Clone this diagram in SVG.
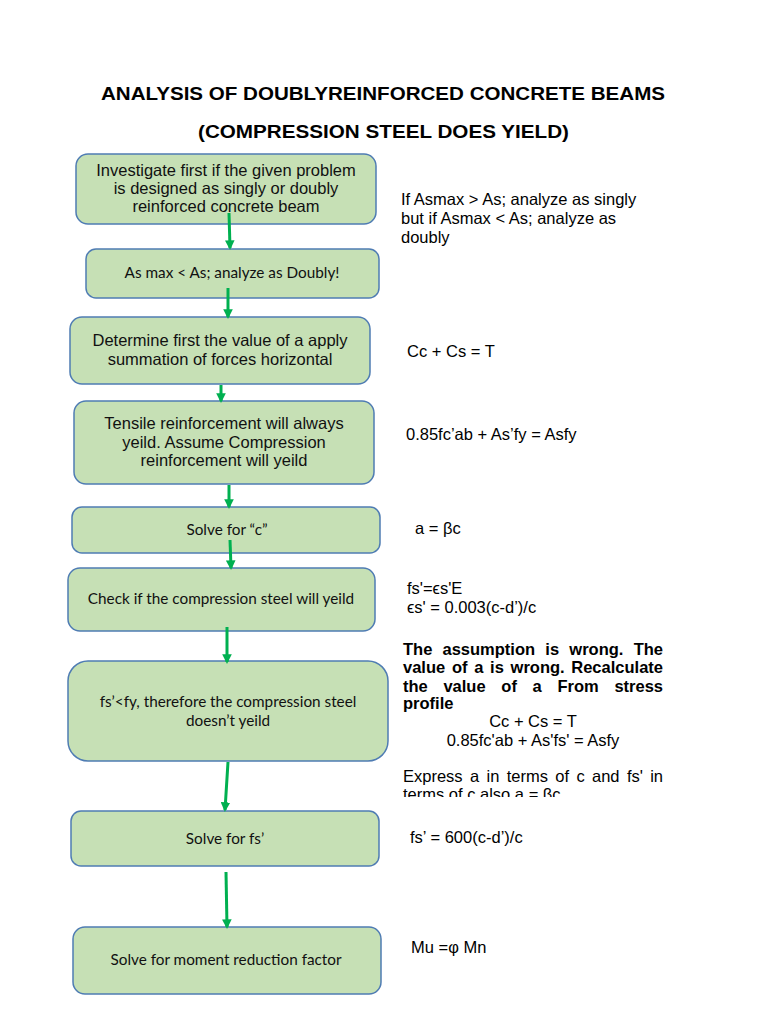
<svg xmlns="http://www.w3.org/2000/svg" width="768" height="1024" viewBox="0 0 768 1024">
<style>
.box{fill:#c6e0b5;stroke:#4f7cb3;stroke-width:1.5}
.a{font-family:"Liberation Sans",Arial,sans-serif;font-size:16.5px;fill:#111}
.c{font-family:Lato,"Open Sans",sans-serif;font-size:15.3px;fill:#111}
.m{text-anchor:middle}
.t{font-family:"Liberation Sans",Arial,sans-serif;font-size:18px;font-weight:bold;fill:#000;text-anchor:middle}
.b{font-family:"Liberation Sans",Arial,sans-serif;font-size:16.5px;font-weight:bold;fill:#000}
.r{font-family:"Liberation Sans",Arial,sans-serif;font-size:16.5px;fill:#000}
.arr{stroke:#00b050;stroke-width:3;fill:none;marker-end:url(#ah)}
</style>
<defs>
<marker id="ah" viewBox="0 0 10 10" refX="8" refY="5" markerWidth="3.2" markerHeight="3.2" orient="auto" markerUnits="strokeWidth">
<path d="M0,0 L10,5 L0,10 z" fill="#00b050"/>
</marker>
<clipPath id="clip"><rect x="390" y="760" width="300" height="37"/></clipPath>
</defs>
<rect width="768" height="1024" fill="#fff"/>
<g id="title">
<text class="t" x="383" y="100" textLength="564" lengthAdjust="spacingAndGlyphs">ANALYSIS OF DOUBLYREINFORCED CONCRETE BEAMS</text>
<text class="t" x="383.5" y="138" textLength="371" lengthAdjust="spacingAndGlyphs">(COMPRESSION STEEL DOES YIELD)</text>
</g>
<g id="n1"><rect class="box" x="76" y="154" width="300" height="70" rx="12"/>
<text class="a m" x="226" y="176">Investigate first if the given problem</text>
<text class="a m" x="226" y="194">is designed as singly or doubly</text>
<text class="a m" x="226" y="212">reinforced concrete beam</text></g>
<g id="n2"><rect class="box" x="86" y="249" width="293" height="49" rx="10"/>
<text class="c m" x="232" y="278">As max &lt; As; analyze as Doubly!</text></g>
<g id="n3"><rect class="box" x="70" y="317" width="300" height="67" rx="12"/>
<text class="a m" x="220" y="346">Determine first the value of a apply</text>
<text class="a m" x="220" y="365">summation of forces horizontal</text></g>
<g id="n4"><rect class="box" x="74" y="401" width="300" height="83" rx="12"/>
<text class="a m" x="224" y="429">Tensile reinforcement will always</text>
<text class="a m" x="224" y="448">yeild. Assume Compression</text>
<text class="a m" x="224" y="466">reinforcement will yeild</text></g>
<g id="n5"><rect class="box" x="72" y="507" width="308" height="46" rx="10"/>
<text class="c m" x="227" y="535">Solve for “c”</text></g>
<g id="n6"><rect class="box" x="68" y="568" width="307" height="63" rx="12"/>
<text class="c m" x="221" y="604">Check if the compression steel will yeild</text></g>
<g id="n7"><rect class="box" x="68" y="661" width="320" height="100" rx="20"/>
<text class="c m" x="228" y="707">fs’&lt;fy, therefore the compression steel</text>
<text class="c m" x="228" y="726">doesn’t yeild</text></g>
<g id="n8"><rect class="box" x="71" y="811" width="308" height="55" rx="10"/>
<text class="c m" x="225" y="844">Solve for fs’</text></g>
<g id="n9"><rect class="box" x="73" y="927" width="308" height="67" rx="12"/>
<text class="c m" x="226" y="965">Solve for moment reduction factor</text></g>
<g id="connectors">
<line class="arr" x1="229" y1="213" x2="230" y2="248"/>
<line class="arr" x1="228" y1="288" x2="228" y2="317"/>
<line class="arr" x1="221" y1="385" x2="221" y2="401"/>
<line class="arr" x1="229" y1="485" x2="229" y2="507"/>
<line class="arr" x1="230" y1="540" x2="231" y2="568"/>
<line class="arr" x1="227" y1="627" x2="227" y2="662"/>
<line class="arr" x1="228" y1="762" x2="225" y2="810"/>
<line class="arr" x1="226" y1="872" x2="227" y2="927"/>
</g>
<g id="notes">
<text class="r" x="401" y="205">If Asmax &gt; As; analyze as singly</text>
<text class="r" x="401" y="224">but if Asmax &lt; As; analyze as</text>
<text class="r" x="401" y="243">doubly</text>
<text class="r" x="407" y="357">Cc + Cs = T</text>
<text class="r" x="406" y="440">0.85fc’ab + As’fy = Asfy</text>
<text class="r" x="415" y="534">a = βc</text>
<text class="r" x="407" y="594">fs'=ϵs'E</text>
<text class="r" x="407" y="613">ϵs' = 0.003(c-d’)/c</text>
<text class="b" y="655"><tspan x="403">The</tspan><tspan x="442.5">assumption</tspan><tspan x="545.3">is</tspan><tspan x="569.3">wrong.</tspan><tspan x="663" text-anchor="end">The</tspan></text>
<text class="b" y="673"><tspan x="403">value</tspan><tspan x="451.9">of</tspan><tspan x="474.2">a</tspan><tspan x="490.1">is</tspan><tspan x="510.6">wrong.</tspan><tspan x="663" text-anchor="end">Recalculate</tspan></text>
<text class="b" y="692"><tspan x="403">the</tspan><tspan x="443.4">value</tspan><tspan x="501.3">of</tspan><tspan x="532.6">a</tspan><tspan x="557.5">From</tspan><tspan x="663" text-anchor="end">stress</tspan></text>
<text class="b" x="403" y="709">profile</text>
<text class="r m" x="533" y="727">Cc + Cs = T</text>
<text class="r m" x="533" y="746">0.85fc'ab + As'fs' = Asfy</text>
<text class="r" y="782"><tspan x="403">Express</tspan><tspan x="470">a</tspan><tspan x="486.5">in</tspan><tspan x="506.7">terms</tspan><tspan x="555.3">of</tspan><tspan x="576.4">c</tspan><tspan x="592">and</tspan><tspan x="626.9">fs'</tspan><tspan x="663" text-anchor="end">in</tspan></text>
<text class="r" x="403" y="800" clip-path="url(#clip)">terms of c also a = βc</text>
<text class="r" x="410" y="843">fs’ = 600(c-d’)/c</text>
<text class="r" x="411" y="953">Mu =φ Mn</text>
</g>
</svg>
